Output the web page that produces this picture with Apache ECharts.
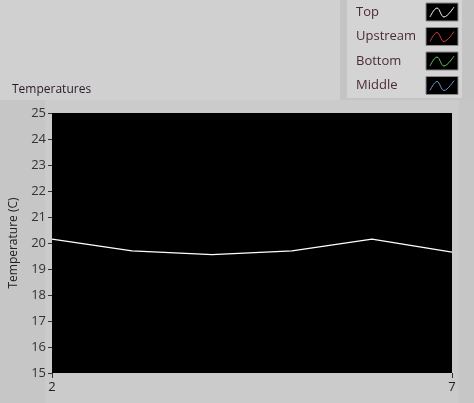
<!DOCTYPE html>
<html><head><meta charset="utf-8">
<script src="https://cdn.jsdelivr.net/npm/echarts@6/dist/echarts.min.js"></script>
<style>html,body{margin:0;padding:0;background:#d0d0d0}#c{width:474px;height:403px}</style>
</head><body><div id="c"></div>
<script>
const xValues = [2, 3, 4, 5, 6, 7];
const seriesNames = ['Top', 'Upstream', 'Bottom', 'Middle'];
const seriesColors = ['#ffffff', '#d04040', '#60d060', '#7090d0'];
const topValues = [20.15, 19.7, 19.55, 19.7, 20.15, 19.65];
const yTicks = [15, 16, 17, 18, 19, 20, 21, 22, 23, 24, 25];

const chart = echarts.init(document.getElementById('c'));
const legendGraphics = [];
legendGraphics.push({type:'rect', shape:{x:340,y:0,width:134,height:100}, style:{fill:'#c4c4c4'}});
legendGraphics.push({type:'rect', shape:{x:347,y:0,width:115,height:98}, style:{fill:'#d4d4d4'}});
seriesNames.forEach((n,i)=>{
  const y = 12 + i*24.5;
  legendGraphics.push({type:'text', x:356, y:y, style:{text:n, fill:'#4a2a3a', font:'13px "Open Sans"', verticalAlign:'middle'}});
  legendGraphics.push({type:'rect', shape:{x:426,y:y-9,width:32,height:18}, style:{fill:'#000', stroke:'#888', lineWidth:1}});
  legendGraphics.push({type:'polyline', shape:{points:[[430,y+5],[437,y-4],[444,y+5],[454,y-5]], smooth:0.4}, style:{stroke:seriesColors[i], lineWidth:1, fill:null}});
});
legendGraphics.push({type:'text', x:12, y:90, style:{text:'Temperatures', fill:'#2a1a2a', font:'12px "Open Sans"', verticalAlign:'middle'}});
legendGraphics.push({type:'rect', z:-1, shape:{x:0,y:100,width:474,height:303}, style:{fill:'#c6c6c6'}});
legendGraphics.push({type:'rect', z:-1, shape:{x:45,y:100,width:414,height:303}, style:{fill:'#cbcbcb'}});

chart.setOption({
  backgroundColor:'#d0d0d0',
  animation:false,
  graphic: legendGraphics,
  grid:{left:49, right:22, top:113, bottom:30, show:true, backgroundColor:'#000', borderWidth:0},
  xAxis:{type:'value', min:2, max:7, interval:5,
    axisLine:{show:false}, splitLine:{show:false},
    axisTick:{show:true, inside:false, length:5, lineStyle:{color:'#333'}},
    axisLabel:{color:'#222', fontSize:13, margin:8, fontFamily:'Open Sans'}},
  yAxis:{type:'value', min:15, max:25, interval:1, name:'Temperature (C)', nameLocation:'middle', nameGap:32,
    nameTextStyle:{color:'#222', fontSize:12, fontFamily:'Open Sans'},
    axisLine:{show:false}, splitLine:{show:false},
    axisTick:{show:true, length:4, lineStyle:{color:'#333'}},
    axisLabel:{color:'#333', fontSize:13, margin:6, fontFamily:'Open Sans'}},
  series: seriesNames.map((n,i)=>({
    name:n, type:'line', showSymbol:false, smooth:false,
    lineStyle:{color:seriesColors[i], width:1.3},
    data: i===0 ? xValues.map((x,j)=>[x, topValues[j]]) : []
  }))
});
</script></body></html>
